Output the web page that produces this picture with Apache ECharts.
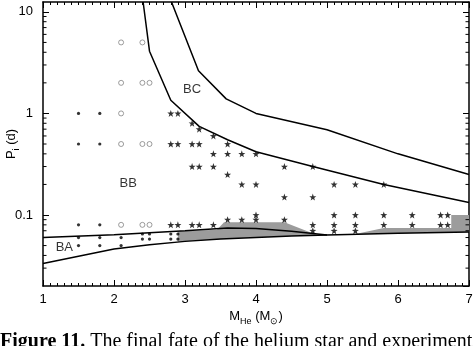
<!DOCTYPE html>
<html><head><meta charset="utf-8">
<script src="https://cdn.jsdelivr.net/npm/echarts@6/dist/echarts.min.js"></script>
<style>html,body{margin:0;padding:0;background:#fff}#c{width:474px;height:346px}</style>
</head><body><div id="c"></div>
<script>
// ---- axis ticks ----
const xMin = 1, xMax = 7;
const yMin = 0.02, yMax = 12.5;
const yMinorTicks = [0.03,0.04,0.05,0.06,0.07,0.08,0.09,0.2,0.3,0.4,0.5,0.6,0.7,0.8,0.9,2,3,4,5,6,7,8,9];

// ---- filled dots ----
const dotMass   = [1.5,1.8, 1.5,1.8, 1.5,1.8, 1.5,1.8,2.1, 2.4,2.5,2.8,2.9, 2.4,2.5,2.8,2.9, 1.5,1.8,2.1];
const dotPeriod = [1,1, 0.5,0.5, 0.08,0.08, 0.06,0.06,0.06, 0.065,0.065,0.065,0.065, 0.058,0.058,0.058,0.058, 0.05,0.05,0.05];

// ---- open circles ----
const circleMass   = [2.1,2.4, 2.1,2.4,2.5, 2.1, 2.1,2.4,2.5, 2.1,2.4,2.5];
const circlePeriod = [5,5, 2,2,2, 1, 0.5,0.5,0.5, 0.08,0.08,0.08];

// ---- stars ----
const starMass = [
  2.8,2.9,
  3.1,
  3.2,
  3.4,
  2.8,2.9,3.1,3.2,3.6,
  3.4,3.6,3.8,4.0,
  3.1,3.2,3.4,4.4,4.8,
  3.6,
  3.8,4.0,5.1,5.4,5.8,
  4.4,4.8,
  4.0,5.1,5.4,5.8,6.2,6.6,6.7,
  3.6,3.8,4.0,4.4,
  2.8,2.9,3.1,3.2,3.4,4.8,5.1,5.4,5.8,6.2,6.6,6.7,
  4.8,5.1,5.4
];
const starPeriod = [
  1,1,
  0.8,
  0.7,
  0.6,
  0.5,0.5,0.5,0.5,0.5,
  0.4,0.4,0.4,0.4,
  0.3,0.3,0.3,0.3,0.3,
  0.25,
  0.2,0.2,0.2,0.2,0.2,
  0.15,0.15,
  0.1,0.1,0.1,0.1,0.1,0.1,0.1,
  0.09,0.09,0.09,0.09,
  0.08,0.08,0.08,0.08,0.08,0.08,0.08,0.08,0.08,0.08,0.08,0.08,
  0.07,0.07,0.07
];

// ---- boundary curves ----
const bbMass   = [2.41,2.5,2.8,3.2,3.6,4.0,4.8,5.8,7.0];
const bbPeriod = [12.5,4.1,1.35,0.745,0.55,0.42,0.3,0.2,0.133];
const bcMass   = [2.81,3.19,3.58,4.0,5.0,6.0,7.0];
const bcPeriod = [12.5,2.63,1.39,1.0,0.69,0.40,0.25];
const baUpMass   = [1.0,2.0,3.0,3.6,4.0,4.5,5.0];
const baUpPeriod = [0.060,0.064,0.070,0.0745,0.0735,0.069,0.0637];
const baLoMass   = [1.0,1.5,2.0,2.5,3.0,3.5,4.0,4.5,5.0,6.0,7.0];
const baLoPeriod = [0.0333,0.0393,0.0462,0.051,0.055,0.058,0.060,0.062,0.0637,0.066,0.068];

// ---- grey band ----
const greyMass   = [2.9,3.45,3.55,4.4,4.85,5.4,5.8,6.75,6.75,7.0];
const greyTop    = [0.069,0.0715,0.085,0.085,0.0638,0.065,0.0746,0.0746,0.1,0.1];
const greyBottom = [0.0545,0.0578,0.0583,0.0616,0.0632,0.0649,0.0658,0.0676,0.0676,0.068];

// ---- region labels ----
const regionNames  = ['BC','BB','BA'];
const regionMass   = [3.1,2.2,1.3];
const regionPeriod = [1.71,0.206,0.0475];

const zip = (a,b) => a.map((v,i)=>[v,b[i]]);
const FONT = 'Liberation Sans';
const starPath = 'path://M0,-10L2.35,-3.24L9.51,-3.09L3.8,1.24L5.88,8.09L0,4L-5.88,8.09L-3.8,1.24L-9.51,-3.09L-2.35,-3.24Z';

const chart = echarts.init(document.getElementById('c'), null, {renderer:'canvas'});
const isPow10 = v => Math.abs(Math.log10(v) - Math.round(Math.log10(v))) < 1e-6;

const xBase = {
  type:'value', min:xMin, max:xMax, interval:1,
  axisLine:{show:true,lineStyle:{color:'#000',width:1.5}},
  axisTick:{show:true,inside:true,length:6,lineStyle:{color:'#000',width:1}},
  minorTick:{show:true,splitNumber:10,length:3,lineStyle:{color:'#000',width:1}},
  splitLine:{show:false}, minorSplitLine:{show:false}
};
const yBase = {
  type:'log', min:yMin, max:yMax, logBase:10, splitNumber:3,
  axisLine:{show:true,lineStyle:{color:'#000',width:1.5}},
  axisTick:{show:true,inside:true,length:6,lineStyle:{color:'#000',width:1}},
  splitLine:{show:false}
};
const lineStyle = {color:'#000',width:1.5};
const curve = (m,p) => ({type:'line',data:zip(m,p),showSymbol:false,symbol:'none',clip:true,
  lineStyle:lineStyle,z:4,silent:true,animation:false});

chart.setOption({
  animation:false,
  grid:{left:43,right:5,top:2,bottom:60,containLabel:false,outerBoundsMode:'none'},
  xAxis:[
    Object.assign({}, xBase, {position:'bottom',
      axisLabel:{show:true,color:'#000',fontFamily:FONT,fontSize:13,margin:7},
      name:'{a|M}{s|He}{a| (M}{s|⊙}{a|)}', nameLocation:'middle', nameGap:20, nameMoveOverlap:false,
      nameTextStyle:{rich:{
        a:{fontFamily:FONT,fontSize:13,color:'#000',lineHeight:20,verticalAlign:'middle'},
        s:{fontFamily:FONT,fontSize:9,color:'#000',lineHeight:10,verticalAlign:'bottom'}}}}),
    Object.assign({}, xBase, {position:'top',axisLabel:{show:false}})
  ],
  yAxis:[
    Object.assign({}, yBase, {position:'left',
      axisLabel:{show:true,color:'#000',fontFamily:FONT,fontSize:13,margin:10,
        showMinLabel:false,showMaxLabel:false,
        formatter:v=> isPow10(v) ? String(+v.toPrecision(3)) : ''},
      name:'{a|P}{s|i}{a| (d)}', nameLocation:'middle', nameGap:22, nameRotate:90, nameMoveOverlap:false,
      nameTextStyle:{rich:{
        a:{fontFamily:FONT,fontSize:13,color:'#000',lineHeight:20,verticalAlign:'middle'},
        s:{fontFamily:FONT,fontSize:9,color:'#000',lineHeight:10,verticalAlign:'bottom'}}}}),
    Object.assign({}, yBase, {position:'right',axisLabel:{show:false}})
  ],
  series:[
    { // grey band
      type:'custom', xAxisIndex:0, yAxisIndex:0, z:1, silent:true, clip:true,
      data:[[greyMass[0],greyBottom[0]]],
      renderItem:(params,api)=>{
        const pts = [];
        for(let i=0;i<greyMass.length;i++) pts.push(api.coord([greyMass[i],greyTop[i]]));
        for(let i=greyMass.length-1;i>=0;i--) pts.push(api.coord([greyMass[i],greyBottom[i]]));
        return {type:'polygon',shape:{points:pts},style:{fill:'#9c9c9c',stroke:null}};
      }
    },
    { // minor y ticks, left & right
      type:'custom', xAxisIndex:0, yAxisIndex:0, z:6, silent:true, clip:false,
      data:yMinorTicks.map(v=>[xMin,v]),
      renderItem:(params,api)=>{
        const v = api.value(1);
        const l = api.coord([xMin,v]), r = api.coord([xMax,v]);
        return {type:'group',children:[
          {type:'line',shape:{x1:l[0],y1:l[1],x2:l[0]+3.5,y2:l[1]},style:{stroke:'#000',lineWidth:1}},
          {type:'line',shape:{x1:r[0],y1:r[1],x2:r[0]-3.5,y2:r[1]},style:{stroke:'#000',lineWidth:1}}
        ]};
      }
    },
    curve(bbMass,bbPeriod),
    curve(bcMass,bcPeriod),
    curve(baUpMass,baUpPeriod),
    curve(baLoMass,baLoPeriod),
    {type:'scatter',data:zip(dotMass,dotPeriod),symbol:'circle',symbolSize:3.2,
      itemStyle:{color:'#000'},z:5,silent:true},
    {type:'scatter',data:zip(circleMass,circlePeriod),symbol:'circle',symbolSize:5,
      itemStyle:{color:'#fff',borderColor:'#777',borderWidth:0.9},z:5,silent:true},
    {type:'scatter',data:zip(starMass,starPeriod),symbol:starPath,symbolSize:7,
      itemStyle:{color:'#000'},z:5,silent:true},
    {type:'scatter',data:regionNames.map((n,i)=>({name:n,value:[regionMass[i],regionPeriod[i]]})),
      symbolSize:0,z:5,silent:true,
      label:{show:true,position:'inside',formatter:'{b}',color:'#000',fontFamily:FONT,fontSize:13}}
  ],
  graphic:[
    {type:'text',left:0,top:332,silent:true,
      style:{text:'{b|Figure 11.} The final fate of the helium star and experiment',
        fontFamily:'Liberation Serif',fontSize:20,fill:'#000',
        rich:{b:{fontFamily:'Liberation Serif',fontSize:20,fontWeight:'bold',fill:'#000'}}}}
  ]
});
</script>
</body></html>
